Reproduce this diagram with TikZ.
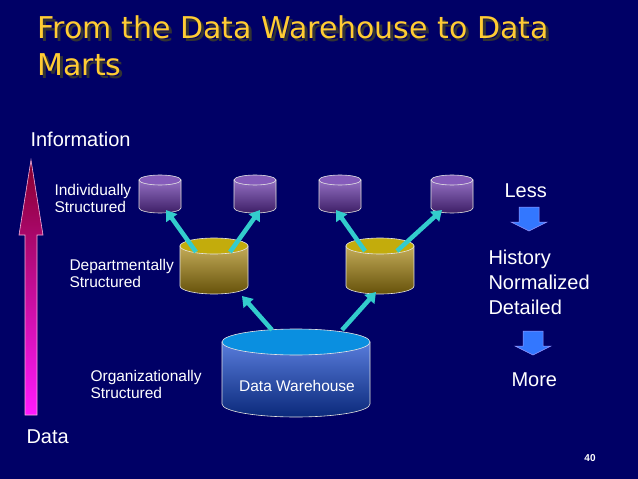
\documentclass[tikz,border=0pt]{standalone}
\usepackage{fontspec}
\setmainfont{Liberation Sans}
\newfontfamily\titlefont{DejaVu Sans}
\usetikzlibrary{arrows.meta}
\definecolor{bg}{HTML}{000066}
\definecolor{ttl}{HTML}{FFCC33}
\definecolor{cy}{HTML}{33CCCC}
\definecolor{purp}{HTML}{6633AA}
\definecolor{gold}{HTML}{AA8811}
\definecolor{dwb}{HTML}{1144CC}
\definecolor{blka}{HTML}{3377FF}
% #1 name, #2 cx, #3 top y, #4 half width, #5 height, #6 ry, #7 body, #8 top colour
\newcommand\mycyl[8]{%
 \fill[top color=#7!70!white, bottom color=#7!60!black, draw=white!80!gray, line width=0.6pt]
   (#2-#4,#3) -- (#2-#4,#3+#5) arc[start angle=180,end angle=360,x radius=#4,y radius=-#6] -- (#2+#4,#3) -- cycle;
 \draw[fill=#8, draw=white!80!gray, line width=0.6pt] (#2,#3) ellipse[x radius=#4, y radius=#6];
 \coordinate (#1) at (#2,#3+#5/2);
}
% block arrow: #1 name, #2 cx, #3 top y
\newcommand\myblk[3]{%
 \fill[blka, draw=white!60!blue, line width=0.5pt] (#2-10,#3) -- (#2+10,#3) -- (#2+10,#3+15) -- (#2+18,#3+15) -- (#2,#3+24) -- (#2-18,#3+15) -- (#2-10,#3+15) -- cycle;
 \coordinate (#1) at (#2,#3+12);
}
\tikzset{
 lbl/.style={text=white, align=left, anchor=west, font=\fontsize{15.5}{17}\selectfont},
 big/.style={text=white, align=left, anchor=west, font=\fontsize{20}{25}\selectfont},
 ca/.style={cy, line width=4.5pt, -{Triangle[length=10pt,width=13pt]}}
}
\begin{document}
\begin{tikzpicture}[x=1pt,y=-1pt]
\fill[bg] (0,0) rectangle (638,479);
\useasboundingbox (0,0) rectangle (638,479);
\node[text=black!80, anchor=north west, align=left, font=\titlefont\fontsize{30}{37}\selectfont] at (37,15) {From the Data Warehouse to Data\\Marts};
\node (title) [text=ttl, anchor=north west, align=left, font=\titlefont\fontsize{30}{37}\selectfont] at (34,12) {From the Data Warehouse to Data\\Marts};
% left arrow
\shade[top color=purple!70!black, bottom color=magenta!90!white, draw=white!70!magenta, line width=0.6pt] (25,415) -- (25,235) -- (19,235) -- (31,160) -- (43,235) -- (37,235) -- (37,415) -- cycle;
\node (info) [big] at (27,139) {Information};
\node (data) [big] at (23,437) {Data};
% cylinders
\mycyl{s1}{160}{180}{21}{28}{5}{purp}{purp!80!white}
\mycyl{s2}{255}{180}{21}{28}{5}{purp}{purp!80!white}
\mycyl{s3}{340}{180}{21}{28}{5}{purp}{purp!80!white}
\mycyl{s4}{452}{180}{21}{28}{5}{purp}{purp!80!white}
\mycyl{g1}{214}{246}{34}{40}{8}{gold}{gold!70!yellow}
\mycyl{g2}{380}{246}{34}{40}{8}{gold}{gold!70!yellow}
\mycyl{dw}{296}{342}{74}{62}{13}{dwb}{dwb!60!cyan}
\node (dwl) [text=white, font=\fontsize{15.5}{17}\selectfont] at (297,386) {Data Warehouse};
\draw[ca] (196,252) -- (166,210);
\draw[ca] (230,252) -- (260,210);
\draw[ca] (365,251) -- (336,210);
\draw[ca] (397,251) -- (442,210);
\draw[ca] (272,330) -- (242,296);
\draw[ca] (342,330) -- (376,292);
\node (l1) [lbl] at (51,198) {Individually\\Structured};
\node (l2) [lbl] at (66,273) {Departmentally\\Structured};
\node (l3) [lbl] at (87,384) {Organizationally\\Structured};
% right
\node (less) [big] at (501,191) {Less};
\myblk{a1}{529}{207}
\node (hist) [big] at (485,282) {History\\Normalized\\Detailed};
\myblk{a2}{533}{331}
\node (more) [big] at (508,380) {More};
\node (pg) [text=white, font=\bfseries\fontsize{10}{12}\selectfont] at (590,458) {40};
\end{tikzpicture}
\end{document}
